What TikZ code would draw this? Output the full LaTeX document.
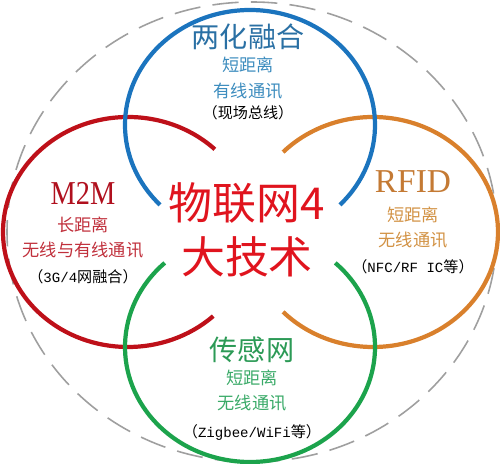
\documentclass[tikz,border=0pt]{standalone}
\usepackage{fontspec}
\setmainfont{Liberation Serif}
\setmonofont{Liberation Mono}
\newfontfamily\cjk{Noto Sans CJK SC}
\usetikzlibrary{positioning}

\definecolor{ringblue}{HTML}{1B74BE}
\definecolor{ringred}{HTML}{BE1019}
\definecolor{ringorange}{HTML}{D9802C}
\definecolor{ringgreen}{HTML}{1CA34C}
\definecolor{txtblue}{HTML}{2A70A4}
\definecolor{subblue}{HTML}{3C8CBE}
\definecolor{txtred}{HTML}{B0101E}
\definecolor{subred}{HTML}{C0303C}
\definecolor{txtorange}{HTML}{C47A34}
\definecolor{suborange}{HTML}{D29244}
\definecolor{txtgreen}{HTML}{2C9A56}
\definecolor{subgreen}{HTML}{3AAA68}
\definecolor{hubred}{HTML}{E0141E}

\newcommand{\lat}[1]{{\ttfamily\fontsize{8}{10}\selectfont #1}}

\begin{document}
\begin{tikzpicture}[x=0.02cm, y=0.02cm,
    ring/.style={line width=2.4pt},
    txt/.style={inner sep=0pt},
    head/.style={txt, font=\cjk\fontsize{16}{18}\selectfont},
    latin/.style={txt, font=\fontsize{19}{21}\selectfont},
    sub/.style={txt, font=\cjk\fontsize{9.8}{11}\selectfont},
    note/.style={txt, text=black, font=\cjk\fontsize{8.6}{10}\selectfont},
    hub/.style={txt, text=hubred, font=\cjk\fontsize{25}{28}\selectfont}]
  \useasboundingbox (0,0) rectangle (500,463);

  % centres
  \coordinate (cblue) at (250,338);
  \coordinate (cred) at (128,231);
  \coordinate (corange) at (373,231);
  \coordinate (cgreen) at (250,116);

  % trace
  \draw[gray!75, line width=0.9pt, dash pattern=on 15pt off 7pt] (252,231) ellipse [x radius=245, y radius=230];

  % rings, blue and green on top
  \draw[ring, ringred] (cred) ++(46:125 and 115) arc [start angle=46, end angle=313, x radius=125, y radius=115];
  \draw[ring, ringorange] (corange) ++(-136:125 and 115) arc [start angle=-136, end angle=136, x radius=125, y radius=115];
  \draw[ring, ringblue] (cblue) ++(-44:125 and 115) arc [start angle=-44, end angle=224, x radius=125, y radius=115];
  \draw[ring, ringgreen] (cgreen) ++(133:125 and 115) arc [start angle=133, end angle=407, x radius=125, y radius=115];

  % top
  \node[head, text=txtblue] (liang) at (248,426) {两化融合};
  \node[sub, text=subblue] (liang1) at (248,398) {短距离};
  \node[sub, text=subblue] (liang2) at (248,372) {有线通讯};
  \node[note] (liang3) at (248,350) {（现场总线）};

  % left
  \node[latin, text=txtred, xscale=0.85] (mtm) at (83,270) {M2M};
  \node[sub, text=subred] (mtm1) at (83,238) {长距离};
  \node[sub, text=subred] (mtm2) at (83,213) {无线与有线通讯};
  \node[note] (mtm3) at (83,186) {（\lat{3G/4}网融合）};

  % right
  \node[latin, text=txtorange] (rfid) at (413,281) {RFID};
  \node[sub, text=suborange] (rfid1) at (413,248) {短距离};
  \node[sub, text=suborange] (rfid2) at (413,223) {无线通讯};
  \node[note] (rfid3) at (413,196) {（\lat{NFC/RF IC}等）};

  % bottom
  \node[head, text=txtgreen] (sensor) at (252,113) {传感网};
  \node[sub, text=subgreen] (sensor1) at (252,85) {短距离};
  \node[sub, text=subgreen] (sensor2) at (252,60) {无线通讯};
  \node[note] (sensor3) at (252,31) {（\lat{Zigbee/WiFi}等）};

  % centre
  \node[hub] (hub1) at (247,260) {物联网4};
  \node[hub] (hub2) at (247,206) {大技术};
\end{tikzpicture}
\end{document}
